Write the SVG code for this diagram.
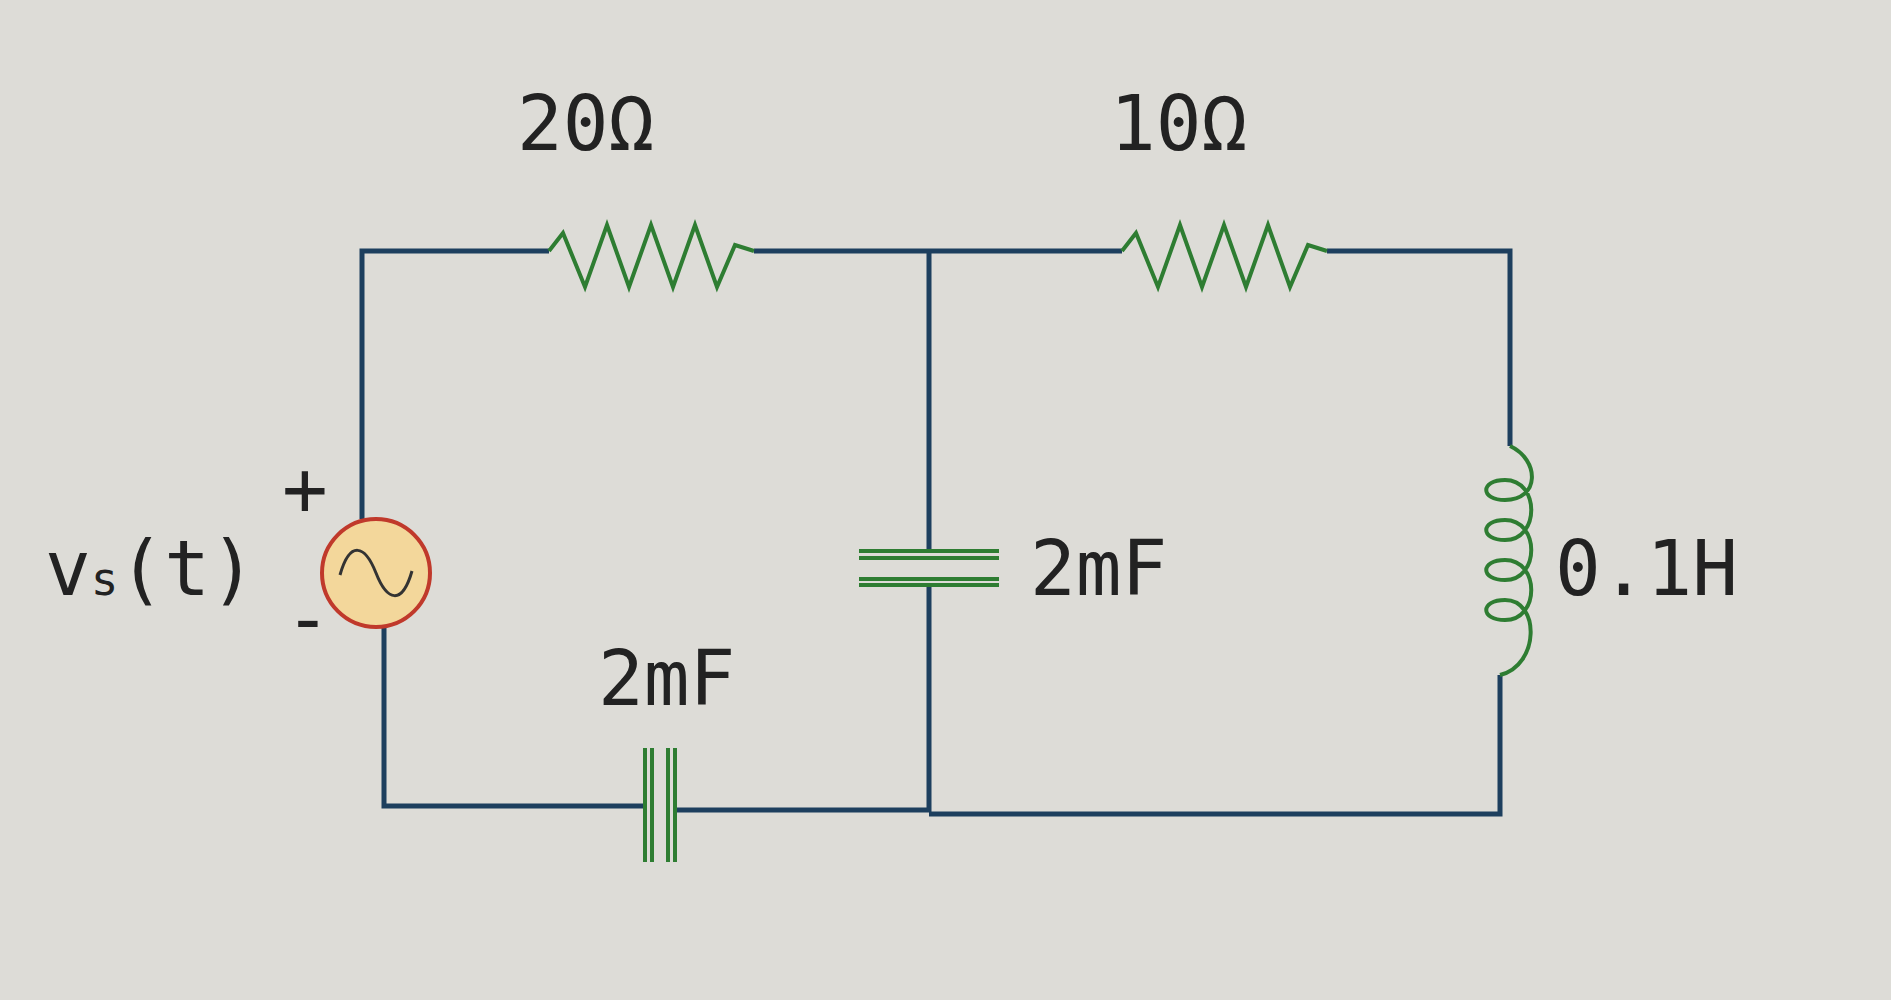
<svg xmlns="http://www.w3.org/2000/svg" width="1891" height="1000" viewBox="0 0 1891 1000">
<style>
.w{fill:none;stroke:#1d3f5e;stroke-width:5}
.g{fill:none;stroke:#2e7d32;stroke-width:4}
.t{font-family:"DejaVu Sans Mono",monospace;fill:#222;font-size:76px}
</style>
<rect width="1891" height="1000" fill="#dddcd7"/>
<g id="wires">
<path class="w" d="M362,519 V251 H549 M754,251 H1122 M1327,251 H1510 V446 M1500,675 V814 H929 M929,251 V551 M929,585 V812 M929,810 H675 M645,806 H384 V627"/>
</g>
<g id="R1"><path class="g" d="M549,251 L563,233 L585,287 L607,225 L629,287 L651,225 L673,287 L695,225 L717,287 L735,245 L754,251"/><text class="t" x="517" y="150">20Ω</text></g>
<g id="R2"><path class="g" d="M1122,251 L1136,233 L1158,287 L1180,225 L1202,287 L1224,225 L1246,287 L1268,225 L1290,287 L1308,245 L1327,251"/><text class="t" x="1110" y="150">10Ω</text></g>
<g id="C1"><path class="g" d="M859,551 H999 M859,558 H999 M859,579 H999 M859,585 H999"/><text class="t" x="1030" y="595">2mF</text></g>
<g id="C2"><path class="g" d="M645,748 V862 M652,748 V862 M668,748 V862 M675,748 V862"/><text class="t" x="598" y="705">2mF</text></g>
<g id="L1"><path class="g" d="M1510,446 C1540,460 1540,500 1505,500 C1480,500 1480,480 1505,480 C1540,480 1540,540 1505,540 C1480,540 1480,520 1505,520 C1540,520 1540,580 1505,580 C1480,580 1480,560 1505,560 C1540,560 1540,620 1505,620 C1480,620 1480,600 1505,600 C1540,600 1540,665 1500,675"/><text class="t" x="1555" y="595">0.1H</text></g>
<g id="VS"><circle cx="376" cy="573" r="54" fill="#f3d79b" stroke="#c0392b" stroke-width="4"/><path d="M340,575 C350,540 365,545 376,573 C387,601 402,606 412,571" fill="none" stroke="#333" stroke-width="3"/>
<text class="t" x="45" y="595">v<tspan font-size="46">s</tspan>(t)</text><text class="t" x="282" y="515" font-size="40">+</text><text class="t" x="285" y="645" font-size="40">-</text></g>
</svg>
